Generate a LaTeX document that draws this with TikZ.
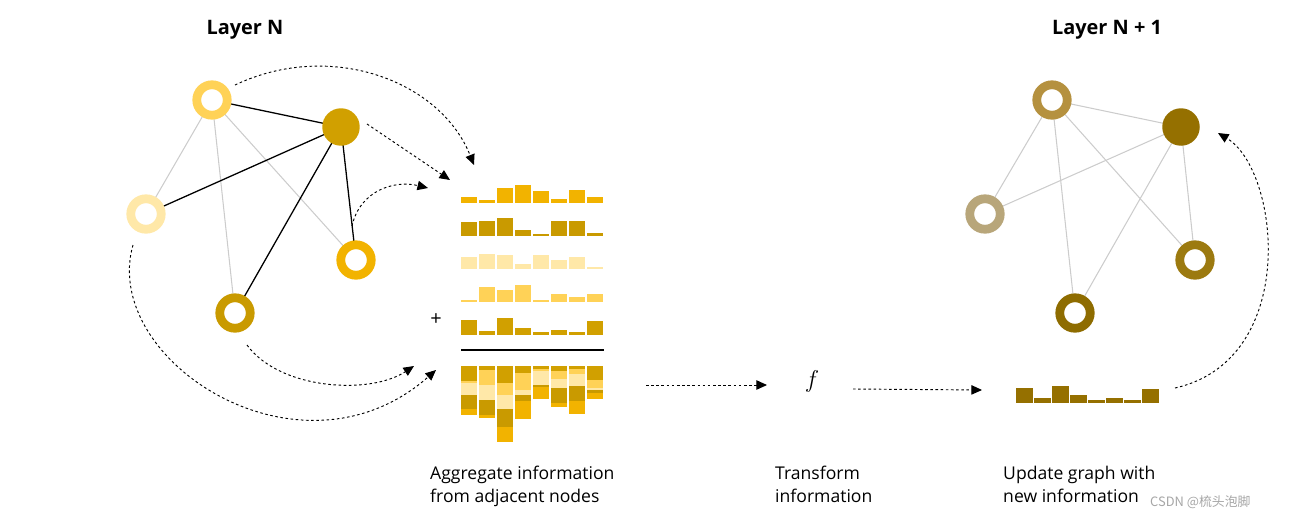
\documentclass[tikz,border=0pt]{standalone}
\usepackage{fontspec}
\setmainfont{Open Sans}
\newfontfamily\cjk{Noto Sans CJK SC}
\usetikzlibrary{arrows.meta}
\definecolor{cA}{HTML}{FFD257}
\definecolor{cB}{HTML}{D1A000}
\definecolor{cC}{HTML}{FFE8A8}
\definecolor{cD}{HTML}{F2B300}
\definecolor{cE}{HTML}{C99A00}
\definecolor{rA}{HTML}{B5913F}
\definecolor{rB}{HTML}{957000}
\definecolor{rC}{HTML}{B8A67A}
\definecolor{rD}{HTML}{9C7A10}
\definecolor{rE}{HTML}{8E6C00}
\definecolor{edgegray}{HTML}{CCCCCC}
\tikzset{
  ring/.style={circle,draw=#1,line width=7.5pt,fill=white,minimum size=26pt,inner sep=0pt},
  dot/.style={circle,fill=#1,minimum size=32pt,inner sep=0pt},
  ge/.style={draw=edgegray,line width=0.9pt},
  be/.style={draw=black,line width=1.1pt},
  da/.style={draw=black,dash pattern=on 2.2pt off 2.2pt,line width=0.8pt,-{Triangle[length=9pt,width=8pt]}},
  lbl/.style={anchor=north west,align=left,font=\fontsize{15}{19.5}\selectfont,inner sep=0pt},
  ttl/.style={font=\bfseries\fontsize{17}{20}\selectfont}
}
\begin{document}
\begin{tikzpicture}[x=0.03cm,y=-0.03cm]
\useasboundingbox (0,0) rectangle (1303,522);
% left graph
\coordinate (A) at (212,100);
\coordinate (B) at (341,127);
\coordinate (C) at (146,214);
\coordinate (D) at (356,260);
\coordinate (E) at (235,313);
\draw[ge] (A) -- (C); \draw[ge] (A) -- (E); \draw[ge] (A) -- (D);
\draw[be] (A) -- (B); \draw[be] (B) -- (C); \draw[be] (B) -- (E); \draw[be] (B) -- (D);
\node[ring=cA] (nA) at (A) {}; \node[ring=cC] (nC) at (C) {}; \node[ring=cD] (nD) at (D) {}; \node[ring=cE] (nE) at (E) {}; \node[dot=cB] (nB) at (B) {};
% right graph
\coordinate (A2) at (1052,100);
\coordinate (B2) at (1181,127);
\coordinate (C2) at (985,214);
\coordinate (D2) at (1195,260);
\coordinate (E2) at (1075,313);
\draw[ge] (A2) -- (C2); \draw[ge] (A2) -- (E2); \draw[ge] (A2) -- (D2); \draw[ge] (A2) -- (B2);
\draw[ge] (B2) -- (C2); \draw[ge] (B2) -- (E2); \draw[ge] (B2) -- (D2);
\node[ring=rA] (nA2) at (A2) {}; \node[ring=rC] (nC2) at (C2) {}; \node[ring=rD] (nD2) at (D2) {}; \node[ring=rE] (nE2) at (E2) {}; \node[dot=rB] (nB2) at (B2) {};
% titles
\node[ttl] (t1) at (245,30) {Layer N};
\node[ttl] (t2) at (1107,30) {Layer N + 1};
% bar rows
\foreach \base/\col/\hs in {203/cD/{6,3,15,18,12,4,13,6},236/cE/{14,15,18,6,2,15,15,3},269/cC/{12,15,14,5,14,9,12,2},302/cA/{2,15,12,17,2,8,5,8},335/cB/{15,4,17,7,3,5,3,14}}{
  \foreach \h [count=\i from 0] in \hs {
    \fill[\col] (461+18*\i,\base) rectangle ++(16,-\h);
  }
}
\node[font=\fontsize{17}{17}\selectfont] (plus) at (436,320) {+};
\coordinate (l1) at (461,350); \coordinate (l2) at (604,350);
\draw[line width=1.1pt] (l1) -- (l2);
% stacked
\foreach \a/\b/\c/\d/\e [count=\i from 0] in {15/2/12/14/6, 4/15/15/15/3, 17/12/14/18/15, 7/17/5/6/18, 3/2/14/2/12, 5/8/9/15/4, 3/5/12/15/13, 14/8/2/3/6}{
  \pgfmathsetmacro\xx{461+18*\i}
  \fill[cB] (\xx,366) rectangle ++(16,\a);
  \fill[cA] (\xx,366+\a) rectangle ++(16,\b);
  \fill[cC] (\xx,366+\a+\b) rectangle ++(16,\c);
  \fill[cE] (\xx,366+\a+\b+\c) rectangle ++(16,\d);
  \fill[cD] (\xx,366+\a+\b+\c+\d) rectangle ++(16,\e);
}
% output bar
\foreach \h [count=\i from 0] in {15,5,17,8,3,5,3,14}{
  \fill[rB] (1016+18*\i,403) rectangle ++(17,-\h);
}
% f
\node[font=\fontsize{22}{22}\selectfont,inner sep=2pt] (f) at (812,381) {$f$};
% dashed arrows
\coordinate (p1) at (235,85);   \coordinate (q1) at (474,165);
\coordinate (p2) at (367,124);  \coordinate (q2) at (450,180);
\coordinate (p3) at (352,226);  \coordinate (q3) at (428,188);
\coordinate (p4) at (247,345);  \coordinate (q4) at (414,366);
\coordinate (p5) at (133,245);  \coordinate (q5) at (436,370);
\coordinate (p6) at (646,385);  \coordinate (q6) at (767,385);
\coordinate (p7) at (853,389);  \coordinate (q7) at (982,390);
\coordinate (p8) at (1175,388); \coordinate (q8) at (1218,133);
\draw[da] (p1) .. controls (330,40) and (440,80) .. (q1);
\draw[da] (p2) -- (q2);
\draw[da] (p3) .. controls (360,190) and (395,180) .. (q3);
\draw[da] (p4) .. controls (280,390) and (370,395) .. (q4);
\draw[da] (p5) .. controls (100,360) and (300,490) .. (q5);
\draw[da] (p6) -- (q6);
\draw[da] (p7) -- (q7);
\draw[da] (p8) .. controls (1300,360) and (1280,170) .. (q8);
% labels
\node[lbl] (L1) at (430,466) {Aggregate information\\from adjacent nodes};
\node[lbl] (L2) at (775,466) {Transform\\information};
\node[lbl] (L3) at (1003,466) {Update graph with\\new information};
\node[anchor=west,text=gray!70,font=\cjk\fontsize{11}{11}\selectfont,inner sep=0pt] (wm) at (1150,502) {CSDN @梳头泡脚};
\end{tikzpicture}
\end{document}
